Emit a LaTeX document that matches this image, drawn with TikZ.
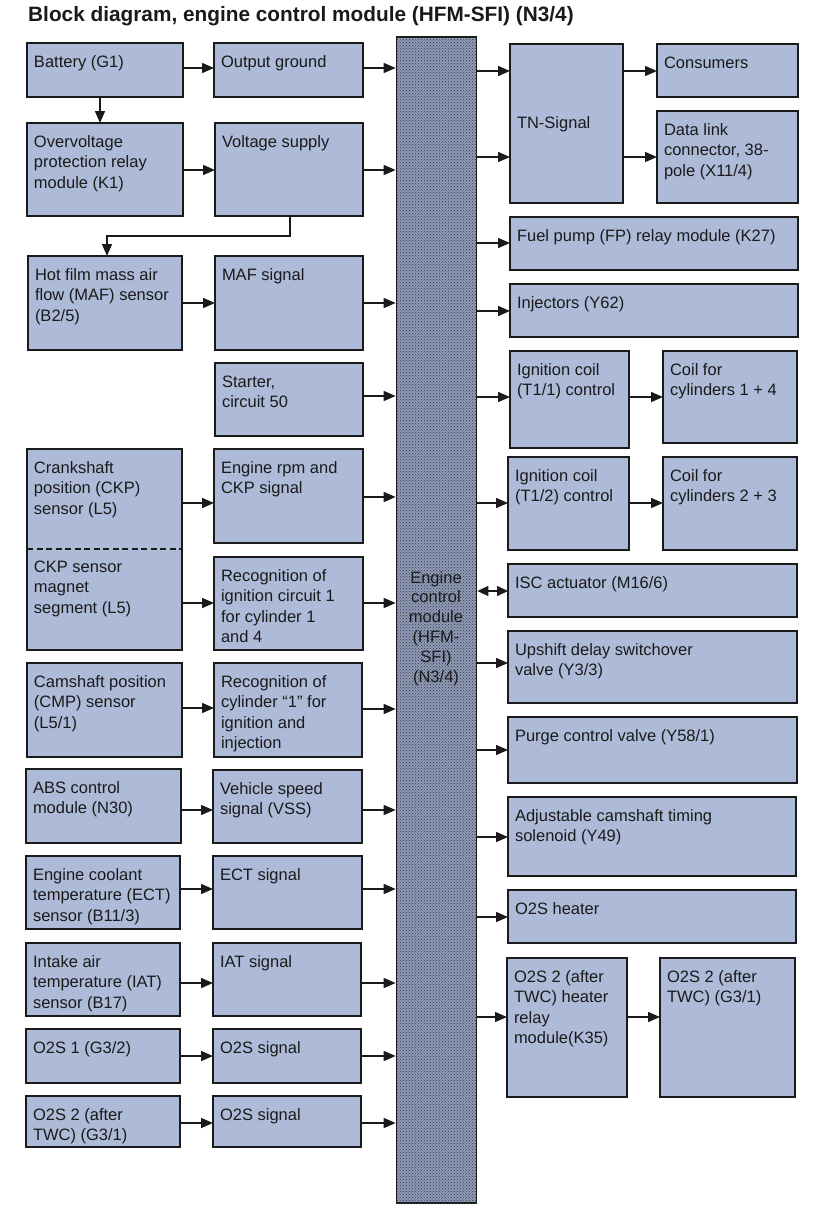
\documentclass[tikz,border=0pt]{standalone}
\usepackage{fontspec}
\setmainfont{Liberation Sans}
\usetikzlibrary{arrows.meta,patterns}
\definecolor{boxc}{HTML}{AEBBD8}
\definecolor{ecmc}{HTML}{8E99B5}
\definecolor{ecmdot}{HTML}{353B4A}
\definecolor{ink}{HTML}{1A1A1A}
\newcommand\bfont{\fontsize{16.5}{20.5}\selectfont}
\newcommand\efont{\fontsize{16.5}{19.8}\selectfont}
\tikzset{
  box/.style={draw=ink, line width=1.7pt, fill=boxc, inner sep=0pt, outer sep=0pt},
  lbl/.style={anchor=north west, inner sep=0pt, outer sep=0pt, align=left, font=\bfont, text=ink},
  arr/.style={draw=ink, line width=1.5pt, -{Triangle[length=12pt,width=10pt]}},
  dblarr/.style={draw=ink, line width=1.5pt, {Triangle[length=11pt,width=10pt]}-{Triangle[length=11pt,width=10pt]}},
}
% \bx[baseline offset]{name}{x1}{y1}{x2}{y2}{text}
\newcommand\bx[7][24]{%
  \node[box, minimum width={#5pt-#3pt}, minimum height={#6pt-#4pt}] (#2) at ({(#3+#5)/2},{(#4+#6)/2}) {};
  \node[lbl] (#2-t) at ({#3+7},{#4+#1-14.35}) {\strut #7};}
\newcommand\ar[3]{\draw[arr] (#1.east |- 0,#3) -- (#2.west |- 0,#3);}
\begin{document}
\begin{tikzpicture}[x=1pt,y=-1pt]
\useasboundingbox (0,0) rectangle (830,1208);
\fill[white] (0,0) rectangle (830,1208);
\node[anchor=base west, inner sep=0pt, font=\fontsize{20.8}{24}\selectfont\bfseries, text=ink] (title) at (28,21) {Block diagram, engine control module (HFM-SFI) (N3/4)};
% ECM
\node[draw=ink, line width=1.7pt, fill=ecmc, inner sep=0pt, minimum width=80pt, minimum height=1166pt,
      postaction={pattern=crosshatch dots, pattern color=ecmdot}] (ecm) at (436.5,620) {};
\node[anchor=north, inner sep=0pt, align=center, font=\efont, text=ink] (ecm-t) at (436,569)
  {\strut Engine\\control\\module\\(HFM-\\SFI)\\(N3/4)};
% left column
\bx{bat}{27}{43}{183}{97}{Battery (G1)}
\bx{ovp}{27}{123}{183}{216}{Overvoltage\\protection relay\\module (K1)}
\bx{hfm}{28}{256}{182}{350}{Hot film mass air\\flow (MAF) sensor\\(B2/5)}
\node[box, draw=none, minimum width=155pt, minimum height=100pt] (ckp) at (104.5,499) {};
\node[box, draw=none, minimum width=155pt, minimum height=101pt] (mag) at (104.5,599.5) {};
\draw[ink, line width=1.7pt] (ckp.north west) rectangle (mag.south east);
\draw[ink, line width=1.3pt, dash pattern=on 6pt off 3.5pt] (ckp.south west) -- (ckp.south east);
\node[lbl] (ckp-t) at (34,{449+24-14.35}) {\strut Crankshaft\\position (CKP)\\sensor (L5)};
\node[lbl] (mag-t) at (34,{549+23-14.35}) {\strut CKP sensor\\magnet\\segment (L5)};
\bx{cmp}{27}{663}{182}{757}{Camshaft position\\(CMP) sensor\\(L5/1)}
\bx{abs}{26}{769}{181}{843}{ABS control\\module (N30)}
\bx{ect}{26}{856}{180}{929}{Engine coolant\\temperature (ECT)\\sensor (B11/3)}
\bx{iat}{26}{943}{180}{1016}{Intake air\\temperature (IAT)\\sensor (B17)}
\bx{os1}{26}{1029}{180}{1083}{O2S 1 (G3/2)}
\bx{os2}{26}{1096}{180}{1147}{O2S 2 (after\\TWC) (G3/1)}
% middle column
\bx{og}{214}{43}{363}{97}{Output ground}
\bx{vs}{215}{123}{363}{216}{Voltage supply}
\bx{maf}{215}{256}{363}{350}{MAF signal}
\bx{st}{215}{363}{363}{436}{Starter,\\circuit 50}
\bx{rpm}{214}{449}{363}{543}{Engine rpm and\\CKP signal}
\bx{rec1}{214}{557}{363}{650}{Recognition of\\ignition circuit 1\\for cylinder 1\\and 4}
\bx{rec2}{214}{663}{362}{757}{Recognition of\\cylinder “1” for\\ignition and\\injection}
\bx{vss}{213}{770}{362}{843}{Vehicle speed\\signal (VSS)}
\bx{ects}{213}{856}{362}{929}{ECT signal}
\bx{iats}{213}{943}{361}{1016}{IAT signal}
\bx{oss1}{213}{1029}{361}{1083}{O2S signal}
\bx{oss2}{213}{1096}{361}{1147}{O2S signal}
% right side
\bx[84]{tn}{510}{44}{623}{203}{TN-Signal}
\bx{cons}{657}{44}{798}{97}{Consumers}
\bx{dlc}{657}{111}{798}{203}{Data link\\connector, 38-\\pole (X11/4)}
\bx{fp}{510}{217}{798}{270}{Fuel pump (FP) relay module (K27)}
\bx{inj}{510}{284}{798}{337}{Injectors (Y62)}
\bx{ig1}{510}{351}{629}{448}{Ignition coil\\(T1/1) control}
\bx{c14}{663}{351}{797}{443}{Coil for\\cylinders 1 + 4}
\bx{ig2}{508}{457}{629}{550}{Ignition coil\\(T1/2) control}
\bx{c23}{663}{457}{797}{550}{Coil for\\cylinders 2 + 3}
\bx{isc}{508}{564}{797}{617}{ISC actuator (M16/6)}
\bx{up}{508}{631}{797}{703}{Upshift delay switchover\\valve (Y3/3)}
\bx{purge}{508}{717}{797}{783}{Purge control valve (Y58/1)}
\bx{adj}{508}{797}{796}{876}{Adjustable camshaft timing\\solenoid (Y49)}
\bx{heat}{508}{890}{796}{943}{O2S heater}
\bx{k35}{507}{958}{627}{1097}{O2S 2 (after\\TWC) heater\\relay\\module(K35)}
\bx{g31}{660}{958}{795}{1097}{O2S 2 (after\\TWC) (G3/1)}
% connectors left
\draw[arr] (bat.south -| 100,0) -- (ovp.north -| 100,0);
\draw[arr] (vs.south -| 290,0) |- (107,236) -- (hfm.north -| 107,0);
\ar{bat}{og}{68}
\ar{ovp}{vs}{170}
\ar{og}{ecm}{68}
\ar{vs}{ecm}{170}
\ar{hfm}{maf}{303}
\ar{maf}{ecm}{303}
\ar{st}{ecm}{396}
\ar{ckp}{rpm}{503}
\ar{rpm}{ecm}{497}
\ar{mag}{rec1}{603}
\ar{rec1}{ecm}{603}
\ar{cmp}{rec2}{708}
\ar{rec2}{ecm}{709}
\ar{abs}{vss}{810}
\ar{vss}{ecm}{810}
\ar{ect}{ects}{889}
\ar{ects}{ecm}{889}
\ar{iat}{iats}{983}
\ar{iats}{ecm}{983}
\ar{os1}{oss1}{1056}
\ar{oss1}{ecm}{1056}
\ar{os2}{oss2}{1123}
\ar{oss2}{ecm}{1123}
% connectors right
\ar{ecm}{tn}{71}
\ar{ecm}{tn}{157}
\ar{tn}{cons}{71}
\ar{tn}{dlc}{157}
\ar{ecm}{fp}{243}
\ar{ecm}{inj}{311}
\ar{ecm}{ig1}{397}
\ar{ig1}{c14}{397}
\ar{ecm}{ig2}{503}
\ar{ig2}{c23}{503}
\draw[dblarr] (ecm.east |- 0,591) -- (isc.west |- 0,591);
\ar{ecm}{up}{663}
\ar{ecm}{purge}{750}
\ar{ecm}{adj}{837}
\ar{ecm}{heat}{917}
\ar{ecm}{k35}{1017}
\ar{k35}{g31}{1017}
\end{tikzpicture}
\end{document}
